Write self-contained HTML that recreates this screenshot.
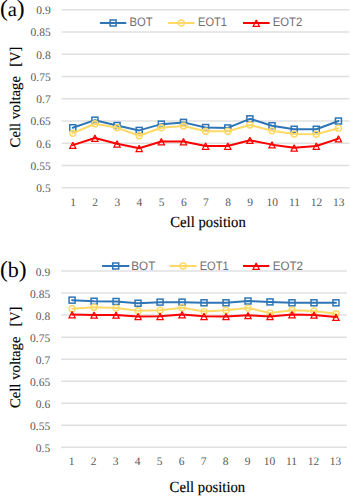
<!DOCTYPE html>
<html><head><meta charset="utf-8"><style>
html,body{margin:0;padding:0;background:#fff;}
svg{display:block;} text{text-rendering:geometricPrecision;}
.tk{font-family:"Liberation Serif",serif;font-size:11.5px;fill:#595959;}
.lg{font-family:"Liberation Sans",sans-serif;font-size:12.3px;fill:#6e6e6e;}
.ti{font-family:"Liberation Serif",serif;font-size:22px;fill:#000;}
.yl{font-family:"Liberation Serif",serif;font-size:15.3px;fill:#000;stroke:#000;stroke-width:0.15px;}
</style></head><body>
<svg width="350" height="496" viewBox="0 0 350 496">
<rect width="350" height="496" fill="#fff"/>
<line x1="61.7" x2="349.5" y1="9.80" y2="9.80" stroke="#e0e0e0" stroke-width="1.5"/>
<line x1="61.7" x2="349.5" y1="32.05" y2="32.05" stroke="#e0e0e0" stroke-width="1.5"/>
<line x1="61.7" x2="349.5" y1="54.30" y2="54.30" stroke="#e0e0e0" stroke-width="1.5"/>
<line x1="61.7" x2="349.5" y1="76.55" y2="76.55" stroke="#e0e0e0" stroke-width="1.5"/>
<line x1="61.7" x2="349.5" y1="98.80" y2="98.80" stroke="#e0e0e0" stroke-width="1.5"/>
<line x1="61.7" x2="349.5" y1="121.05" y2="121.05" stroke="#e0e0e0" stroke-width="1.5"/>
<line x1="61.7" x2="349.5" y1="143.30" y2="143.30" stroke="#e0e0e0" stroke-width="1.5"/>
<line x1="61.7" x2="349.5" y1="165.55" y2="165.55" stroke="#e0e0e0" stroke-width="1.5"/>
<line x1="61.7" x2="349.5" y1="187.80" y2="187.80" stroke="#e0e0e0" stroke-width="1.5"/>
<text x="50.7" y="14.20" text-anchor="end" class="tk">0.9</text>
<text x="50.7" y="36.45" text-anchor="end" class="tk">0.85</text>
<text x="50.7" y="58.70" text-anchor="end" class="tk">0.8</text>
<text x="50.7" y="80.95" text-anchor="end" class="tk">0.75</text>
<text x="50.7" y="103.20" text-anchor="end" class="tk">0.7</text>
<text x="50.7" y="125.45" text-anchor="end" class="tk">0.65</text>
<text x="50.7" y="147.70" text-anchor="end" class="tk">0.6</text>
<text x="50.7" y="169.95" text-anchor="end" class="tk">0.55</text>
<text x="50.7" y="192.20" text-anchor="end" class="tk">0.5</text>
<text x="73.07" y="205.6" text-anchor="middle" class="tk">1</text>
<text x="95.21" y="205.6" text-anchor="middle" class="tk">2</text>
<text x="117.35" y="205.6" text-anchor="middle" class="tk">3</text>
<text x="139.49" y="205.6" text-anchor="middle" class="tk">4</text>
<text x="161.63" y="205.6" text-anchor="middle" class="tk">5</text>
<text x="183.77" y="205.6" text-anchor="middle" class="tk">6</text>
<text x="205.91" y="205.6" text-anchor="middle" class="tk">7</text>
<text x="228.05" y="205.6" text-anchor="middle" class="tk">8</text>
<text x="250.19" y="205.6" text-anchor="middle" class="tk">9</text>
<text x="272.33" y="205.6" text-anchor="middle" class="tk">10</text>
<text x="294.47" y="205.6" text-anchor="middle" class="tk">11</text>
<text x="316.61" y="205.6" text-anchor="middle" class="tk">12</text>
<text x="338.75" y="205.6" text-anchor="middle" class="tk">13</text>
<g><polyline points="72.77,127.72 94.91,120.16 117.05,125.50 139.19,130.40 161.33,124.16 183.47,122.38 205.61,127.50 227.75,127.95 249.89,118.82 272.03,125.72 294.17,129.28 316.31,129.28 338.45,121.05" fill="none" stroke="#2e75b6" stroke-width="2.0" stroke-linejoin="round" stroke-linecap="round"/><rect x="69.77" y="124.72" width="6.0" height="6.0" fill="none" stroke="#2e75b6" stroke-width="1.5"/><rect x="91.91" y="117.16" width="6.0" height="6.0" fill="none" stroke="#2e75b6" stroke-width="1.5"/><rect x="114.05" y="122.50" width="6.0" height="6.0" fill="none" stroke="#2e75b6" stroke-width="1.5"/><rect x="136.19" y="127.40" width="6.0" height="6.0" fill="none" stroke="#2e75b6" stroke-width="1.5"/><rect x="158.33" y="121.16" width="6.0" height="6.0" fill="none" stroke="#2e75b6" stroke-width="1.5"/><rect x="180.47" y="119.38" width="6.0" height="6.0" fill="none" stroke="#2e75b6" stroke-width="1.5"/><rect x="202.61" y="124.50" width="6.0" height="6.0" fill="none" stroke="#2e75b6" stroke-width="1.5"/><rect x="224.75" y="124.95" width="6.0" height="6.0" fill="none" stroke="#2e75b6" stroke-width="1.5"/><rect x="246.89" y="115.82" width="6.0" height="6.0" fill="none" stroke="#2e75b6" stroke-width="1.5"/><rect x="269.03" y="122.72" width="6.0" height="6.0" fill="none" stroke="#2e75b6" stroke-width="1.5"/><rect x="291.17" y="126.28" width="6.0" height="6.0" fill="none" stroke="#2e75b6" stroke-width="1.5"/><rect x="313.31" y="126.28" width="6.0" height="6.0" fill="none" stroke="#2e75b6" stroke-width="1.5"/><rect x="335.45" y="118.05" width="6.0" height="6.0" fill="none" stroke="#2e75b6" stroke-width="1.5"/></g>
<g><polyline points="72.77,133.29 94.91,123.72 117.05,127.72 139.19,135.74 161.33,127.72 183.47,125.94 205.61,131.28 227.75,131.28 249.89,125.05 272.03,130.84 294.17,133.96 316.31,134.18 338.45,128.17" fill="none" stroke="#ffd966" stroke-width="2.0" stroke-linejoin="round" stroke-linecap="round"/><circle cx="72.77" cy="133.29" r="3.0" fill="none" stroke="#ffd966" stroke-width="1.4"/><circle cx="94.91" cy="123.72" r="3.0" fill="none" stroke="#ffd966" stroke-width="1.4"/><circle cx="117.05" cy="127.72" r="3.0" fill="none" stroke="#ffd966" stroke-width="1.4"/><circle cx="139.19" cy="135.74" r="3.0" fill="none" stroke="#ffd966" stroke-width="1.4"/><circle cx="161.33" cy="127.72" r="3.0" fill="none" stroke="#ffd966" stroke-width="1.4"/><circle cx="183.47" cy="125.94" r="3.0" fill="none" stroke="#ffd966" stroke-width="1.4"/><circle cx="205.61" cy="131.28" r="3.0" fill="none" stroke="#ffd966" stroke-width="1.4"/><circle cx="227.75" cy="131.28" r="3.0" fill="none" stroke="#ffd966" stroke-width="1.4"/><circle cx="249.89" cy="125.05" r="3.0" fill="none" stroke="#ffd966" stroke-width="1.4"/><circle cx="272.03" cy="130.84" r="3.0" fill="none" stroke="#ffd966" stroke-width="1.4"/><circle cx="294.17" cy="133.96" r="3.0" fill="none" stroke="#ffd966" stroke-width="1.4"/><circle cx="316.31" cy="134.18" r="3.0" fill="none" stroke="#ffd966" stroke-width="1.4"/><circle cx="338.45" cy="128.17" r="3.0" fill="none" stroke="#ffd966" stroke-width="1.4"/></g>
<g><polyline points="72.77,145.08 94.91,137.96 117.05,143.75 139.19,148.20 161.33,141.52 183.47,141.52 205.61,145.97 227.75,145.97 249.89,140.19 272.03,144.64 294.17,147.75 316.31,145.97 338.45,138.63" fill="none" stroke="#ff0000" stroke-width="2.0" stroke-linejoin="round" stroke-linecap="round"/><path d="M72.77 142.18 L75.87 148.38 L69.67 148.38 Z" fill="none" stroke="#ff0000" stroke-width="1.25" stroke-linejoin="miter" stroke-miterlimit="2"/><path d="M94.91 135.06 L98.01 141.26 L91.81 141.26 Z" fill="none" stroke="#ff0000" stroke-width="1.25" stroke-linejoin="miter" stroke-miterlimit="2"/><path d="M117.05 140.85 L120.15 147.05 L113.95 147.05 Z" fill="none" stroke="#ff0000" stroke-width="1.25" stroke-linejoin="miter" stroke-miterlimit="2"/><path d="M139.19 145.30 L142.29 151.50 L136.09 151.50 Z" fill="none" stroke="#ff0000" stroke-width="1.25" stroke-linejoin="miter" stroke-miterlimit="2"/><path d="M161.33 138.62 L164.43 144.82 L158.23 144.82 Z" fill="none" stroke="#ff0000" stroke-width="1.25" stroke-linejoin="miter" stroke-miterlimit="2"/><path d="M183.47 138.62 L186.57 144.82 L180.37 144.82 Z" fill="none" stroke="#ff0000" stroke-width="1.25" stroke-linejoin="miter" stroke-miterlimit="2"/><path d="M205.61 143.07 L208.71 149.27 L202.51 149.27 Z" fill="none" stroke="#ff0000" stroke-width="1.25" stroke-linejoin="miter" stroke-miterlimit="2"/><path d="M227.75 143.07 L230.85 149.27 L224.65 149.27 Z" fill="none" stroke="#ff0000" stroke-width="1.25" stroke-linejoin="miter" stroke-miterlimit="2"/><path d="M249.89 137.29 L252.99 143.49 L246.79 143.49 Z" fill="none" stroke="#ff0000" stroke-width="1.25" stroke-linejoin="miter" stroke-miterlimit="2"/><path d="M272.03 141.74 L275.13 147.94 L268.93 147.94 Z" fill="none" stroke="#ff0000" stroke-width="1.25" stroke-linejoin="miter" stroke-miterlimit="2"/><path d="M294.17 144.85 L297.27 151.05 L291.07 151.05 Z" fill="none" stroke="#ff0000" stroke-width="1.25" stroke-linejoin="miter" stroke-miterlimit="2"/><path d="M316.31 143.07 L319.41 149.27 L313.21 149.27 Z" fill="none" stroke="#ff0000" stroke-width="1.25" stroke-linejoin="miter" stroke-miterlimit="2"/><path d="M338.45 135.73 L341.55 141.93 L335.35 141.93 Z" fill="none" stroke="#ff0000" stroke-width="1.25" stroke-linejoin="miter" stroke-miterlimit="2"/></g>
<line x1="99.9" x2="126.3" y1="23.0" y2="23.0" stroke="#2e75b6" stroke-width="2.0"/>
<rect x="110.10" y="20.00" width="6.0" height="6.0" fill="none" stroke="#2e75b6" stroke-width="1.5"/>
<text x="129.47" y="26.0" class="lg" style="font-size:12.3px" textLength="23.18" lengthAdjust="spacingAndGlyphs" >BOT</text>
<line x1="168.1" x2="194.5" y1="23.0" y2="23.0" stroke="#ffd966" stroke-width="2.0"/>
<circle cx="181.30" cy="23.00" r="3.0" fill="none" stroke="#ffd966" stroke-width="1.4"/>
<text x="198.09" y="26.0" class="lg" style="font-size:12.3px" textLength="28.95" lengthAdjust="spacingAndGlyphs" >EOT1</text>
<line x1="243" x2="269.6" y1="23.0" y2="23.0" stroke="#ff0000" stroke-width="2.0"/>
<path d="M256.30 20.10 L259.40 26.30 L253.20 26.30 Z" fill="none" stroke="#ff0000" stroke-width="1.25" stroke-linejoin="miter" stroke-miterlimit="2"/>
<text x="272.77" y="26.0" class="lg" style="font-size:12.3px" textLength="29.49" lengthAdjust="spacingAndGlyphs" >EOT2</text>
<text x="-0.12" y="16.3" class="ti"><tspan font-size="23.5">(</tspan><tspan font-size="20.5">a</tspan><tspan font-size="23.5">)</tspan></text>
<g transform="translate(19.5,0) rotate(-90)"><text x="-147.40" y="0" class="yl" style="font-size:14.7px" textLength="71.31" lengthAdjust="spacingAndGlyphs" >Cell voltage</text><text x="-66.77" y="0" class="yl" style="font-size:14.7px" textLength="19.93" lengthAdjust="spacingAndGlyphs" >[V]</text></g>
<text x="170.30" y="226.8" class="yl" style="font-size:15.5px" textLength="75.53" lengthAdjust="spacingAndGlyphs" >Cell position</text>
<line x1="61.1" x2="347" y1="271.10" y2="271.10" stroke="#e0e0e0" stroke-width="1.5"/>
<line x1="61.1" x2="347" y1="293.11" y2="293.11" stroke="#e0e0e0" stroke-width="1.5"/>
<line x1="61.1" x2="347" y1="315.12" y2="315.12" stroke="#e0e0e0" stroke-width="1.5"/>
<line x1="61.1" x2="347" y1="337.13" y2="337.13" stroke="#e0e0e0" stroke-width="1.5"/>
<line x1="61.1" x2="347" y1="359.14" y2="359.14" stroke="#e0e0e0" stroke-width="1.5"/>
<line x1="61.1" x2="347" y1="381.15" y2="381.15" stroke="#e0e0e0" stroke-width="1.5"/>
<line x1="61.1" x2="347" y1="403.16" y2="403.16" stroke="#e0e0e0" stroke-width="1.5"/>
<line x1="61.1" x2="347" y1="425.17" y2="425.17" stroke="#e0e0e0" stroke-width="1.5"/>
<line x1="61.1" x2="347" y1="447.18" y2="447.18" stroke="#e0e0e0" stroke-width="1.5"/>
<text x="50.2" y="275.50" text-anchor="end" class="tk">0.9</text>
<text x="50.2" y="297.51" text-anchor="end" class="tk">0.85</text>
<text x="50.2" y="319.52" text-anchor="end" class="tk">0.8</text>
<text x="50.2" y="341.53" text-anchor="end" class="tk">0.75</text>
<text x="50.2" y="363.54" text-anchor="end" class="tk">0.7</text>
<text x="50.2" y="385.55" text-anchor="end" class="tk">0.65</text>
<text x="50.2" y="407.56" text-anchor="end" class="tk">0.6</text>
<text x="50.2" y="429.57" text-anchor="end" class="tk">0.55</text>
<text x="50.2" y="451.58" text-anchor="end" class="tk">0.5</text>
<text x="71.69" y="465.2" text-anchor="middle" class="tk">1</text>
<text x="93.69" y="465.2" text-anchor="middle" class="tk">2</text>
<text x="115.67" y="465.2" text-anchor="middle" class="tk">3</text>
<text x="137.66" y="465.2" text-anchor="middle" class="tk">4</text>
<text x="159.66" y="465.2" text-anchor="middle" class="tk">5</text>
<text x="181.64" y="465.2" text-anchor="middle" class="tk">6</text>
<text x="203.63" y="465.2" text-anchor="middle" class="tk">7</text>
<text x="225.62" y="465.2" text-anchor="middle" class="tk">8</text>
<text x="247.61" y="465.2" text-anchor="middle" class="tk">9</text>
<text x="269.61" y="465.2" text-anchor="middle" class="tk">10</text>
<text x="291.60" y="465.2" text-anchor="middle" class="tk">11</text>
<text x="313.59" y="465.2" text-anchor="middle" class="tk">12</text>
<text x="335.58" y="465.2" text-anchor="middle" class="tk">13</text>
<g><polyline points="72.09,300.15 94.09,301.25 116.07,301.47 138.06,303.23 160.06,302.13 182.04,302.13 204.03,302.79 226.02,302.79 248.01,301.03 270.00,301.91 292.00,302.79 313.99,302.79 335.98,302.79" fill="none" stroke="#2e75b6" stroke-width="2.0" stroke-linejoin="round" stroke-linecap="round"/><rect x="69.09" y="297.15" width="6.0" height="6.0" fill="none" stroke="#2e75b6" stroke-width="1.5"/><rect x="91.09" y="298.25" width="6.0" height="6.0" fill="none" stroke="#2e75b6" stroke-width="1.5"/><rect x="113.07" y="298.47" width="6.0" height="6.0" fill="none" stroke="#2e75b6" stroke-width="1.5"/><rect x="135.06" y="300.23" width="6.0" height="6.0" fill="none" stroke="#2e75b6" stroke-width="1.5"/><rect x="157.06" y="299.13" width="6.0" height="6.0" fill="none" stroke="#2e75b6" stroke-width="1.5"/><rect x="179.04" y="299.13" width="6.0" height="6.0" fill="none" stroke="#2e75b6" stroke-width="1.5"/><rect x="201.03" y="299.79" width="6.0" height="6.0" fill="none" stroke="#2e75b6" stroke-width="1.5"/><rect x="223.02" y="299.79" width="6.0" height="6.0" fill="none" stroke="#2e75b6" stroke-width="1.5"/><rect x="245.01" y="298.03" width="6.0" height="6.0" fill="none" stroke="#2e75b6" stroke-width="1.5"/><rect x="267.00" y="298.91" width="6.0" height="6.0" fill="none" stroke="#2e75b6" stroke-width="1.5"/><rect x="289.00" y="299.79" width="6.0" height="6.0" fill="none" stroke="#2e75b6" stroke-width="1.5"/><rect x="310.99" y="299.79" width="6.0" height="6.0" fill="none" stroke="#2e75b6" stroke-width="1.5"/><rect x="332.98" y="299.79" width="6.0" height="6.0" fill="none" stroke="#2e75b6" stroke-width="1.5"/></g>
<g><polyline points="72.09,308.74 94.09,307.20 116.07,308.08 138.06,310.72 160.06,310.28 182.04,307.64 204.03,311.60 226.02,310.28 248.01,308.08 270.00,312.92 292.00,310.28 313.99,310.94 335.98,313.80" fill="none" stroke="#ffd966" stroke-width="2.0" stroke-linejoin="round" stroke-linecap="round"/><circle cx="72.09" cy="308.74" r="3.0" fill="none" stroke="#ffd966" stroke-width="1.4"/><circle cx="94.09" cy="307.20" r="3.0" fill="none" stroke="#ffd966" stroke-width="1.4"/><circle cx="116.07" cy="308.08" r="3.0" fill="none" stroke="#ffd966" stroke-width="1.4"/><circle cx="138.06" cy="310.72" r="3.0" fill="none" stroke="#ffd966" stroke-width="1.4"/><circle cx="160.06" cy="310.28" r="3.0" fill="none" stroke="#ffd966" stroke-width="1.4"/><circle cx="182.04" cy="307.64" r="3.0" fill="none" stroke="#ffd966" stroke-width="1.4"/><circle cx="204.03" cy="311.60" r="3.0" fill="none" stroke="#ffd966" stroke-width="1.4"/><circle cx="226.02" cy="310.28" r="3.0" fill="none" stroke="#ffd966" stroke-width="1.4"/><circle cx="248.01" cy="308.08" r="3.0" fill="none" stroke="#ffd966" stroke-width="1.4"/><circle cx="270.00" cy="312.92" r="3.0" fill="none" stroke="#ffd966" stroke-width="1.4"/><circle cx="292.00" cy="310.28" r="3.0" fill="none" stroke="#ffd966" stroke-width="1.4"/><circle cx="313.99" cy="310.94" r="3.0" fill="none" stroke="#ffd966" stroke-width="1.4"/><circle cx="335.98" cy="313.80" r="3.0" fill="none" stroke="#ffd966" stroke-width="1.4"/></g>
<g><polyline points="72.09,314.46 94.09,314.90 116.07,314.90 138.06,316.44 160.06,316.22 182.04,314.46 204.03,316.22 226.02,316.44 248.01,315.34 270.00,316.44 292.00,314.46 313.99,314.90 335.98,317.10" fill="none" stroke="#ff0000" stroke-width="2.0" stroke-linejoin="round" stroke-linecap="round"/><path d="M72.09 311.56 L75.19 317.76 L69.00 317.76 Z" fill="none" stroke="#ff0000" stroke-width="1.25" stroke-linejoin="miter" stroke-miterlimit="2"/><path d="M94.09 312.00 L97.19 318.20 L90.99 318.20 Z" fill="none" stroke="#ff0000" stroke-width="1.25" stroke-linejoin="miter" stroke-miterlimit="2"/><path d="M116.07 312.00 L119.17 318.20 L112.97 318.20 Z" fill="none" stroke="#ff0000" stroke-width="1.25" stroke-linejoin="miter" stroke-miterlimit="2"/><path d="M138.06 313.54 L141.16 319.74 L134.97 319.74 Z" fill="none" stroke="#ff0000" stroke-width="1.25" stroke-linejoin="miter" stroke-miterlimit="2"/><path d="M160.06 313.32 L163.16 319.52 L156.96 319.52 Z" fill="none" stroke="#ff0000" stroke-width="1.25" stroke-linejoin="miter" stroke-miterlimit="2"/><path d="M182.04 311.56 L185.14 317.76 L178.94 317.76 Z" fill="none" stroke="#ff0000" stroke-width="1.25" stroke-linejoin="miter" stroke-miterlimit="2"/><path d="M204.03 313.32 L207.13 319.52 L200.94 319.52 Z" fill="none" stroke="#ff0000" stroke-width="1.25" stroke-linejoin="miter" stroke-miterlimit="2"/><path d="M226.02 313.54 L229.12 319.74 L222.92 319.74 Z" fill="none" stroke="#ff0000" stroke-width="1.25" stroke-linejoin="miter" stroke-miterlimit="2"/><path d="M248.01 312.44 L251.11 318.64 L244.91 318.64 Z" fill="none" stroke="#ff0000" stroke-width="1.25" stroke-linejoin="miter" stroke-miterlimit="2"/><path d="M270.00 313.54 L273.11 319.74 L266.90 319.74 Z" fill="none" stroke="#ff0000" stroke-width="1.25" stroke-linejoin="miter" stroke-miterlimit="2"/><path d="M292.00 311.56 L295.10 317.76 L288.89 317.76 Z" fill="none" stroke="#ff0000" stroke-width="1.25" stroke-linejoin="miter" stroke-miterlimit="2"/><path d="M313.99 312.00 L317.09 318.20 L310.88 318.20 Z" fill="none" stroke="#ff0000" stroke-width="1.25" stroke-linejoin="miter" stroke-miterlimit="2"/><path d="M335.98 314.20 L339.08 320.40 L332.88 320.40 Z" fill="none" stroke="#ff0000" stroke-width="1.25" stroke-linejoin="miter" stroke-miterlimit="2"/></g>
<line x1="102.1" x2="129.3" y1="266.0" y2="266.0" stroke="#2e75b6" stroke-width="2.0"/>
<rect x="112.70" y="263.00" width="6.0" height="6.0" fill="none" stroke="#2e75b6" stroke-width="1.5"/>
<text x="131.35" y="269.5" class="lg" style="font-size:12.3px" textLength="23.92" lengthAdjust="spacingAndGlyphs" >BOT</text>
<line x1="169.6" x2="196.5" y1="266.0" y2="266.0" stroke="#ffd966" stroke-width="2.0"/>
<circle cx="183.05" cy="266.00" r="3.0" fill="none" stroke="#ffd966" stroke-width="1.4"/>
<text x="199.69" y="269.5" class="lg" style="font-size:12.3px" textLength="28.95" lengthAdjust="spacingAndGlyphs" >EOT1</text>
<line x1="243" x2="269.3" y1="266.0" y2="266.0" stroke="#ff0000" stroke-width="2.0"/>
<path d="M256.15 263.10 L259.25 269.30 L253.05 269.30 Z" fill="none" stroke="#ff0000" stroke-width="1.25" stroke-linejoin="miter" stroke-miterlimit="2"/>
<text x="272.65" y="269.5" class="lg" style="font-size:12.3px" textLength="30.34" lengthAdjust="spacingAndGlyphs" >EOT2</text>
<text x="-0.12" y="277.0" class="ti"><tspan font-size="23.5">(</tspan><tspan font-size="22">b</tspan><tspan font-size="23.5">)</tspan></text>
<g transform="translate(19.5,0) rotate(-90)"><text x="-408.10" y="0" class="yl" style="font-size:14.7px" textLength="71.62" lengthAdjust="spacingAndGlyphs" >Cell voltage</text><text x="-326.45" y="0" class="yl" style="font-size:14.7px" textLength="19.60" lengthAdjust="spacingAndGlyphs" >[V]</text></g>
<text x="169.60" y="491.6" class="yl" style="font-size:15.5px" textLength="75.63" lengthAdjust="spacingAndGlyphs" >Cell position</text>
</svg>
</body></html>
